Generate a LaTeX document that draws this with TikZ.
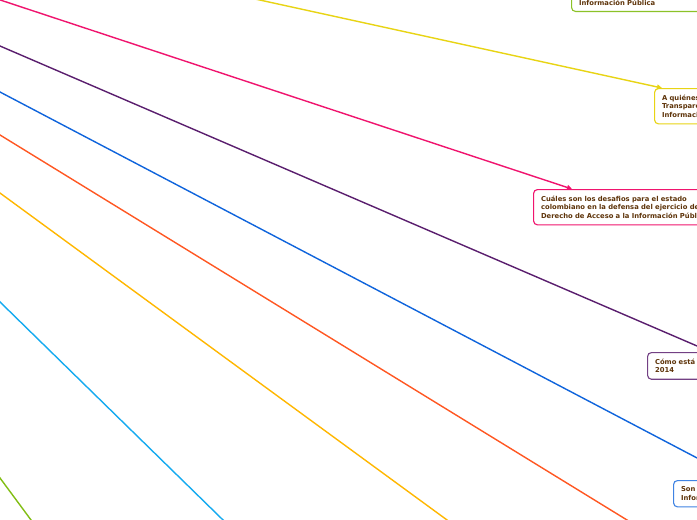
\documentclass[tikz,border=0pt]{standalone}
\usepackage{fontspec}
\setmainfont{DejaVu Sans}
\usetikzlibrary{arrows.meta,calc,backgrounds}
\definecolor{txt}{RGB}{94,52,10}
\definecolor{cgreen}{RGB}{140,194,40}
\definecolor{cyellow}{RGB}{232,212,20}
\definecolor{cpink}{RGB}{240,20,110}
\definecolor{cpurple}{RGB}{90,30,110}
\definecolor{cblue}{RGB}{15,100,220}
\definecolor{corange}{RGB}{255,87,34}
\definecolor{cgold}{RGB}{255,183,0}
\definecolor{clblue}{RGB}{20,170,240}
\definecolor{cgreenline}{RGB}{130,190,20}
\begin{document}
\begin{tikzpicture}[x=1pt,y=-1pt,
  topic/.style={draw, fill=white, rounded corners=4pt, line width=1.1pt,
    inner xsep=7.5pt, inner ysep=6.3pt, align=left, anchor=north west,
    font=\fontsize{6.8}{8.6}\selectfont\bfseries, text=txt, text width=220pt},
  link/.style={line width=1.4pt},
  tip/.style={-{Triangle[length=5pt,width=5pt]}}]
\useasboundingbox (0,0) rectangle (697,520);
\clip (0,0) rectangle (697,520);
% topic boxes
\node[topic, draw=cgreen, anchor=south west] (tgreen) at (571,12) {Información Pública};
\node[topic, draw=cyellow] (tyellow) at (654,88) {A quiénes\\Transparencia\\Información};
\node[topic, draw=cpink] (tpink) at (533,189) {Cuáles son los desafios para el estado\\colombiano en la defensa del ejercicio del\\Derecho de Acceso a la Información Pública};
\node[topic, draw=cpurple!85!white] (tpurple) at (647,352) {Cómo está\\2014};
\node[topic, draw=cblue!80!white] (tblue) at (673,480) {Son\\Información};
% free ends
\coordinate (syellow) at (214,-10);
\coordinate (spink) at (-30,-10);
\coordinate (spurple) at (-20,37.4);
\coordinate (sblue) at (-20,81.5);
\coordinate (sorange) at (-20,122.7);
\coordinate (eorange) at (659.6,540);
\coordinate (sgold) at (-20,178.4);
\coordinate (egold) at (474.4,540);
\coordinate (slblue) at (-20,282.4);
\coordinate (elblue) at (243.5,540);
\coordinate (sgreen) at (-20,450.9);
\coordinate (egreen) at (45.8,540);
\begin{scope}[on background layer]
\fill[white] (0,0) rectangle (697,520);
\draw[link, tip, cyellow] (syellow) -- ($(tyellow.north west)+(8,0)$);
\draw[link, tip, cpink] (spink) -- ($(tpink.north west)+(39,0)$);
\draw[link, tip, cpurple] (spurple) -- ($(tpurple.north west)+(64,0)$);
\draw[link, tip, cblue] (sblue) -- ($(tblue.north west)+(66,0)$);
\draw[link, corange] (sorange) -- (eorange);
\draw[link, cgold] (sgold) -- (egold);
\draw[link, clblue] (slblue) -- (elblue);
\draw[link, cgreenline] (sgreen) -- (egreen);
\end{scope}
\end{tikzpicture}
\end{document}
